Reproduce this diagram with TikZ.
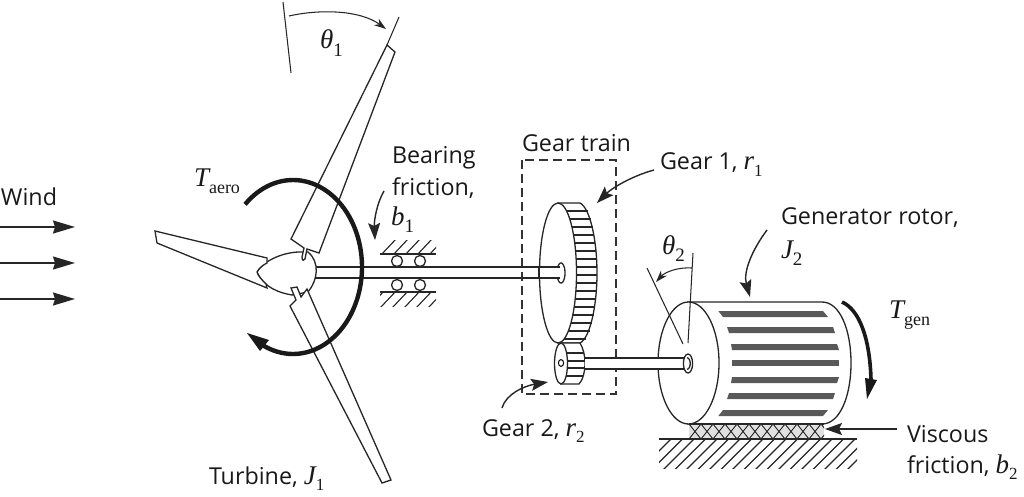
\documentclass[tikz,border=0pt]{standalone}
\usepackage{fontspec}
\setmainfont{Open Sans}
\newfontfamily\mathser{Liberation Serif}
\usetikzlibrary{arrows.meta}
\newcommand{\mv}[1]{{\mathser\itshape\fontsize{27}{27}\selectfont #1}}
\newcommand{\msub}[1]{\raisebox{-0.33em}{\mathser\fontsize{19}{19}\selectfont #1}}
\newcommand{\mtxt}[1]{\raisebox{-0.3em}{\mathser\fontsize{17}{17}\selectfont #1}}
\tikzset{
  lbl/.style={anchor=base west,inner sep=0pt,outer sep=0pt,font=\fontsize{23.3}{27}\selectfont,text=black!90},
  ln/.style={line width=1.3pt,draw=black!85,line join=miter},
  part/.style={ln,fill=white},
  thin arrow/.style={line width=1.4pt,draw=black!85,-{Stealth[length=17pt,width=12pt,inset=3pt]}},
  fine/.style={line width=1.05pt,draw=black!85},
  hatchline/.style={line width=1.1pt,draw=black!85},
  stripe/.style={fill=black!65,draw=none}
}
\begin{document}
\begin{tikzpicture}[x=1pt,y=-1pt]
\useasboundingbox (0,0) rectangle (1024,497);
\fill[white] (0,0) rectangle (1024,497);
% wind
\foreach \yy in {227,263,299}{
  \draw[line width=1.8pt,draw=black!85,-{Stealth[length=22pt,width=13pt,inset=2pt]}] (0,\yy) -- (75,\yy);
}
\node[lbl] (wind) at (1,205) {Wind};
% shaft 1
\draw[part,draw=none] (310,267) rectangle (558,278);
\draw[ln] (312,267) -- (559,267);
\draw[ln] (312,278) -- (559,278);
% hub
\draw[part] (257,272) .. controls (262,262) and (282,252) .. (300,252)
  -- (308,252) .. controls (320,262) and (318,280) .. (308,292)
  -- (292,295) .. controls (280,293) and (264,288) .. cycle;
% left blade
\draw[part] (267,258) -- (155,231) -- (157,243) -- (267,288) -- (266,284)
  .. controls (262,280) and (258,276) .. (257,272)
  .. controls (259,268) and (263,265) .. (267,263) -- cycle;
% top blade
\draw[part] (387,45) -- (291,239) -- (304,248) -- (302,257)
  .. controls (302,261) and (304,261) .. (305,259) -- (307,249) -- (319,253) -- (395,52) -- cycle;
% lower blade
\draw[part] (382,483) -- (290,306) -- (296,300) -- (291,288) -- (297,287) -- (301,297) -- (307,289) -- (391,480) -- cycle;
% theta1
\draw[fine] (283,2) -- (291,73);
\draw[fine] (399,17) -- (387,45);
\draw[line width=1.05pt,draw=black!85,-{Stealth[length=12pt,width=8pt]}] (289,16) .. controls (320,9) and (360,10) .. (386,29);
\node[lbl] (th1) at (320,49) {\mv{θ}\msub{1}};
% torque arc
\draw[line width=4.4pt,draw=black!90] plot[domain=-134:116,samples=80,smooth] ({293+69*cos(\x)},{267+87*sin(\x)});
\fill[black!90] (247,333) -- (269,340) -- (265,345) -- (260,351) -- cycle;
\node[lbl] (taero) at (194,186) {\mv{T}\msub{\fontsize{18}{18}\selectfont aero}};
% bearing
\begin{scope}
  \clip (380,240) rectangle (436,254);
  \foreach \xx in {380,392,...,452}{ \draw[hatchline] (\xx,256) -- (\xx+17,238); }
\end{scope}
\begin{scope}
  \clip (380,292) rectangle (436,306);
  \foreach \xx in {368,380,...,440}{ \draw[hatchline] (\xx,308) -- (\xx+17,290); }
\end{scope}
\draw[ln] (380,254) -- (436,254);
\draw[ln] (380,292) -- (436,292);
\foreach \xx in {397,420}{
  \draw[part] (\xx,261) circle (5.5);
  \draw[part] (\xx,285) circle (5.5);
}
\draw[ln] (380,267) -- (436,267);
\draw[ln] (380,278) -- (436,278);
\draw[thin arrow] (384,191) .. controls (377,203) and (374,220) .. (375,240);
\node[lbl] (bearing) at (392,164) {Bearing};
\node[lbl] (friction) at (392,195) {friction,};
\node[lbl] (b1) at (391,225) {\mv{b}\msub{1}};
% gear train
\draw[line width=1.4pt,draw=black!80,dash pattern=on 9pt off 5pt] (522,160) rectangle (616,394);
\node[lbl] (gt) at (522,152) {Gear train};
% big gear
\draw[part] (558,203) -- (580,203) .. controls (590,208) and (597,240) .. (597,273)
   .. controls (597,306) and (590,338) .. (580,343) -- (558,343) -- cycle;
\foreach \yy in {211,219,...,339}{
  \pgfmathsetmacro\xa{558+18.5*sqrt(1-((\yy-273)/70)^2)}
  \pgfmathsetmacro\xb{580+17*sqrt(1-((\yy-273)/70)^2)}
  \draw[ln] (\xa,\yy) -- (\xb,\yy);
}
\draw[part] (558,273) ellipse [x radius=18.5,y radius=70];
% reveal shaft on gear face
\draw[part,draw=none] (535,268) rectangle (558,278);
\draw[ln] (522,267) -- (560,267);
\draw[ln] (522,278) -- (560,278);
\draw[ln] (539,268) -- (539,277);
\draw[ln] plot[domain=-90:90,samples=30,smooth] ({561+4*cos(\x)},{273+10*sin(\x)});
\draw[ln] plot[domain=-90:-150,samples=10] ({561+4*cos(\x)},{273+10*sin(\x)});
\draw[ln] plot[domain=90:150,samples=10] ({561+4*cos(\x)},{273+10*sin(\x)});
% small gear
\draw[part] (561,343) -- (580,343) .. controls (583,348) and (585,355) .. (585,363)
   .. controls (585,371) and (583,380) .. (579,384) -- (561,384) -- cycle;
\foreach \yy in {353,361,368,376}{
  \pgfmathsetmacro\xa{561+6.5*sqrt(1-((\yy-363)/20.5)^2)}
  \pgfmathsetmacro\xb{578+7*sqrt(1-((\yy-363)/20.5)^2)}
  \draw[ln] (\xa,\yy) -- (\xb,\yy);
}
\draw[part] (561,363.5) ellipse [x radius=6.5,y radius=20.5];
\draw[line width=1pt] (561,363) ellipse [x radius=2.6,y radius=3.4];
% gear labels
\node[lbl] (g1) at (660,170) {Gear 1, \mv{r}\mtxt{1}};
\draw[thin arrow] (654,170) .. controls (632,176) and (612,188) .. (597,203);
\node[lbl] (g2) at (482,436) {Gear 2, \mv{r}\mtxt{2}};
\draw[thin arrow] (502,408) .. controls (506,394) and (524,386) .. (548,382);
% generator
\draw[part] (688,302) -- (822,302) .. controls (840,302) and (851,330) .. (851,363)
  .. controls (851,396) and (840,424) .. (822,424) -- (688,424) -- cycle;
\fill[stripe] (718.3,311) -- (823,311) -- (828,317) -- (723,317) -- cycle;
\fill[stripe] (727,327) -- (833,327) -- (835,333) -- (729,333) -- cycle;
\fill[stripe] (731,344) -- (837,344) -- (839,350) -- (732,350) -- cycle;
\fill[stripe] (732.3,360) -- (839,360) -- (839,366) -- (732.3,366) -- cycle;
\fill[stripe] (732,377) -- (839,377) -- (837,383) -- (731,383) -- cycle;
\fill[stripe] (729,393) -- (835,393) -- (833,399) -- (727,399) -- cycle;
\fill[stripe] (723,410) -- (828,410) -- (823,416) -- (718.3,416) -- cycle;
\draw[part] (688.5,363) ellipse [x radius=30.5,y radius=61];
% shaft 2
\draw[part,draw=none] (585,359) rectangle (688,368);
\draw[line width=1.6pt,draw=black!85] (585,358) -- (688,358);
\draw[line width=1.6pt,draw=black!85] (585,369) -- (688,369);
\draw[part] (688,363.5) ellipse [x radius=4.6,y radius=9.5];
\draw[ln] plot[domain=-90:90,samples=20,smooth] ({687+3.2*cos(\x)},{363.5+5.7*sin(\x)});
% theta2
\draw[fine] (693,253) -- (688,343);
\draw[fine] (647,268) -- (683,344);
\draw[line width=1.05pt,draw=black!85,-{Stealth[length=12pt,width=8pt]}] (692,268) .. controls (678,267) and (665,272) .. (656,282);
\node[lbl] (th2) at (662,254) {\mv{θ}\msub{2}};
% viscous
\fill[black!12] (689,424) rectangle (824,439);
\begin{scope}
  \clip (689,424) rectangle (824,439);
  \foreach \xx in {677,689,...,833}{
    \draw[line width=.9pt,draw=black!85] (\xx,424) -- (\xx+12,439);
    \draw[line width=.9pt,draw=black!85] (\xx+12,424) -- (\xx,439);
  }
\end{scope}
\draw[ln] (689,424) -- (824,424);
\begin{scope}
  \clip (659,439) rectangle (857,468);
  \foreach \xx in {640,651.5,...,880}{ \draw[hatchline] (\xx,470) -- (\xx+31,439); }
\end{scope}
\draw[line width=1.6pt,draw=black!85] (659,439) -- (857,439);
\draw[thin arrow] (897,429) -- (825,429);
\node[lbl] (visc) at (907,442) {Viscous};
\node[lbl] (fr2) at (907,473) {friction, \mv{b}\mtxt{2}};
% rotor label
\node[lbl] (rotor) at (781,224) {Generator rotor,};
\node[lbl] (j2) at (781,258) {\mv{J}\msub{2}};
\draw[thin arrow] (767,230) .. controls (752,250) and (743,272) .. (750,297);
% Tgen
\draw[line width=3.6pt,draw=black!90] (842,302) .. controls (860,310) and (870,340) .. (871,380);
\fill[black!90] (865,378) -- (877,380) -- (867,399) -- cycle;
\node[lbl] (tgen) at (889,318) {\mv{T}\msub{\fontsize{18}{18}\selectfont gen}};
% turbine
\node[lbl] (turb) at (209,484) {Turbine, \mv{J}\mtxt{1}};
\end{tikzpicture}
\end{document}
